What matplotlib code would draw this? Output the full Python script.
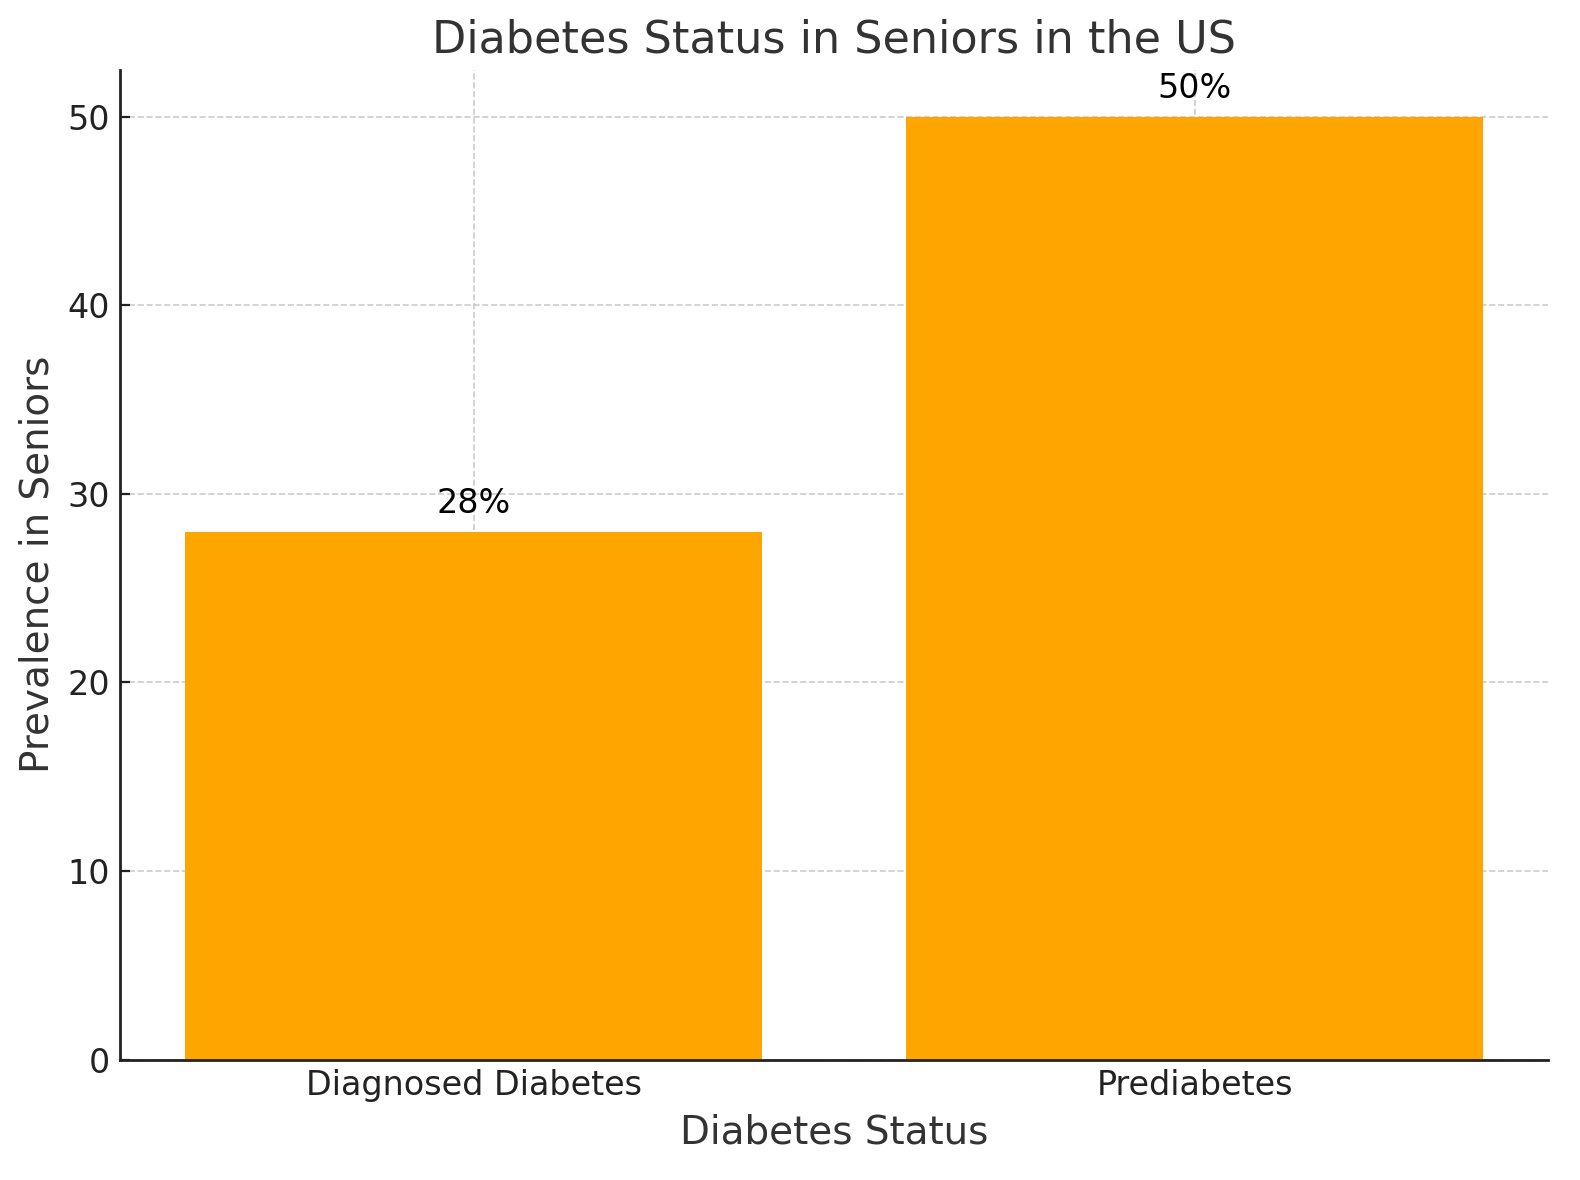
import matplotlib.pyplot as plt

categories = ["Diagnosed Diabetes", "Prediabetes"]
prevalence = [28, 50]

fig, ax = plt.subplots(figsize=(7.9, 5.9), dpi=200)
fig.subplots_adjust(left=0.076, right=0.98, top=0.941, bottom=0.102)

bars = ax.bar(categories, prevalence, color="orange", zorder=2)
for b, v in zip(bars, prevalence):
    ax.text(b.get_x() + b.get_width() / 2, v + 0.6, f"{v}%",
            ha="center", va="bottom", fontsize=12)

ax.grid(True, linestyle="--", color="#cccccc", linewidth=0.6, zorder=0)
ax.spines["top"].set_visible(False)
ax.spines["right"].set_visible(False)
for s in ("left", "bottom"):
    ax.spines[s].set_linewidth(1.0)
    ax.spines[s].set_color("#222222")
ax.set_title("Diabetes Status in Seniors in the US", fontsize=16, color="#333333")
ax.set_xlabel("Diabetes Status", fontsize=14, color="#333333")
ax.set_ylabel("Prevalence in Seniors", fontsize=14, color="#333333")
ax.tick_params(labelsize=12, direction="in", colors="#222222", zorder=3)

fig.savefig("out.png", dpi=200)
